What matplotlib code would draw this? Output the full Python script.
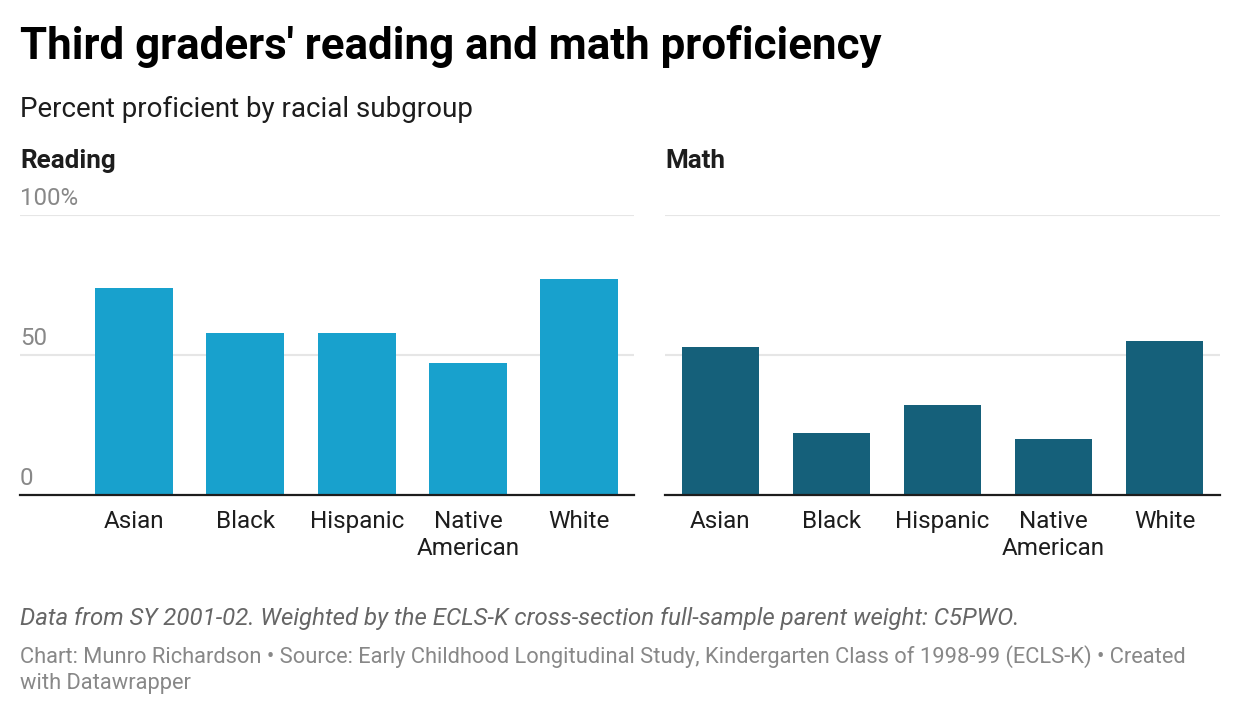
import matplotlib
matplotlib.use("Agg")
import matplotlib.pyplot as plt
import matplotlib.transforms as mtrans

plt.rcParams['font.family'] = ['Roboto', 'DejaVu Sans']

categories = ["Asian", "Black", "Hispanic", "Native\nAmerican", "White"]
reading = [74, 58, 58, 47, 77]
math = [53, 22, 32, 20, 55]
y_ticks = [0, 50, 100]
y_tick_labels = ["0", "50", "100%"]

W, H = 1240, 714
fig = plt.figure(figsize=(W / 100, H / 100), dpi=100)


def box(x0, x1, ytop, ybot):
    # pixel box -> figure fraction rect
    return [x0 / W, 1 - ybot / H, (x1 - x0) / W, (ybot - ytop) / H]


def ftext(x, y, s, **kw):
    fig.text(x / W, 1 - y / H, s, **kw)


def draw_panel(ax, values, color, xlim, show_labels):
    x = range(len(values))
    ax.bar(x, values, width=0.70, color=color, zorder=2)
    ax.set_xlim(*xlim)
    ax.set_ylim(0, 100)
    for v in (50, 100):
        ax.axhline(v, color="#e6e6e6", lw=1.5, zorder=1)
    for s in ("top", "right", "left"):
        ax.spines[s].set_visible(False)
    ax.spines["bottom"].set_color("#1d1d1d")
    ax.spines["bottom"].set_linewidth(1.6)
    ax.spines["bottom"].set_zorder(3)
    ax.set_yticks([])
    ax.set_xticks(list(x))
    ax.set_xticklabels(categories, fontsize=17.5, color="#1d1d1d", linespacing=1.18)
    ax.tick_params(axis="x", length=0, pad=11)
    if show_labels:
        tr = mtrans.blended_transform_factory(ax.transAxes, ax.transData)
        for v, lab in zip(y_ticks, y_tick_labels):
            ax.annotate(lab, xy=(0, v), xycoords=tr, xytext=(0, 3.5),
                        textcoords="offset points", fontsize=17.4, color="#888888",
                        ha="left", va="bottom")


ax1 = fig.add_axes(box(20, 634, 215, 495))
draw_panel(ax1, reading, "#18a1cd", (-1.025, 4.49), True)

ax2 = fig.add_axes(box(665, 1220, 215, 495))
draw_panel(ax2, math, "#15607a", (-0.5, 4.5), False)

ftext(20, 47, "Third graders' reading and math proficiency", fontsize=31.6,
      fontweight="bold", color="#000000", va="center")
ftext(20, 109, "Percent proficient by racial subgroup", fontsize=20,
      color="#1d1d1d", va="center")
ftext(20, 161, "Reading", fontsize=18.7, fontweight="bold", color="#1d1d1d", va="center")
ftext(665, 161, "Math", fontsize=18.7, fontweight="bold", color="#1d1d1d", va="center")

ftext(20, 619, "Data from SY 2001-02. Weighted by the ECLS-K cross-section full-sample parent weight: C5PWO.",
      fontsize=17.3, style="italic", color="#666666", va="center")
ftext(20, 657, "Chart: Munro Richardson \u2022 Source: Early Childhood Longitudinal Study, "
      "Kindergarten Class of 1998-99 (ECLS-K) \u2022 Created",
      fontsize=15.75, color="#888888", va="center")
ftext(20, 683, "with Datawrapper", fontsize=15.75, color="#888888", va="center")

fig.savefig("out.png", dpi=100, facecolor="white")
